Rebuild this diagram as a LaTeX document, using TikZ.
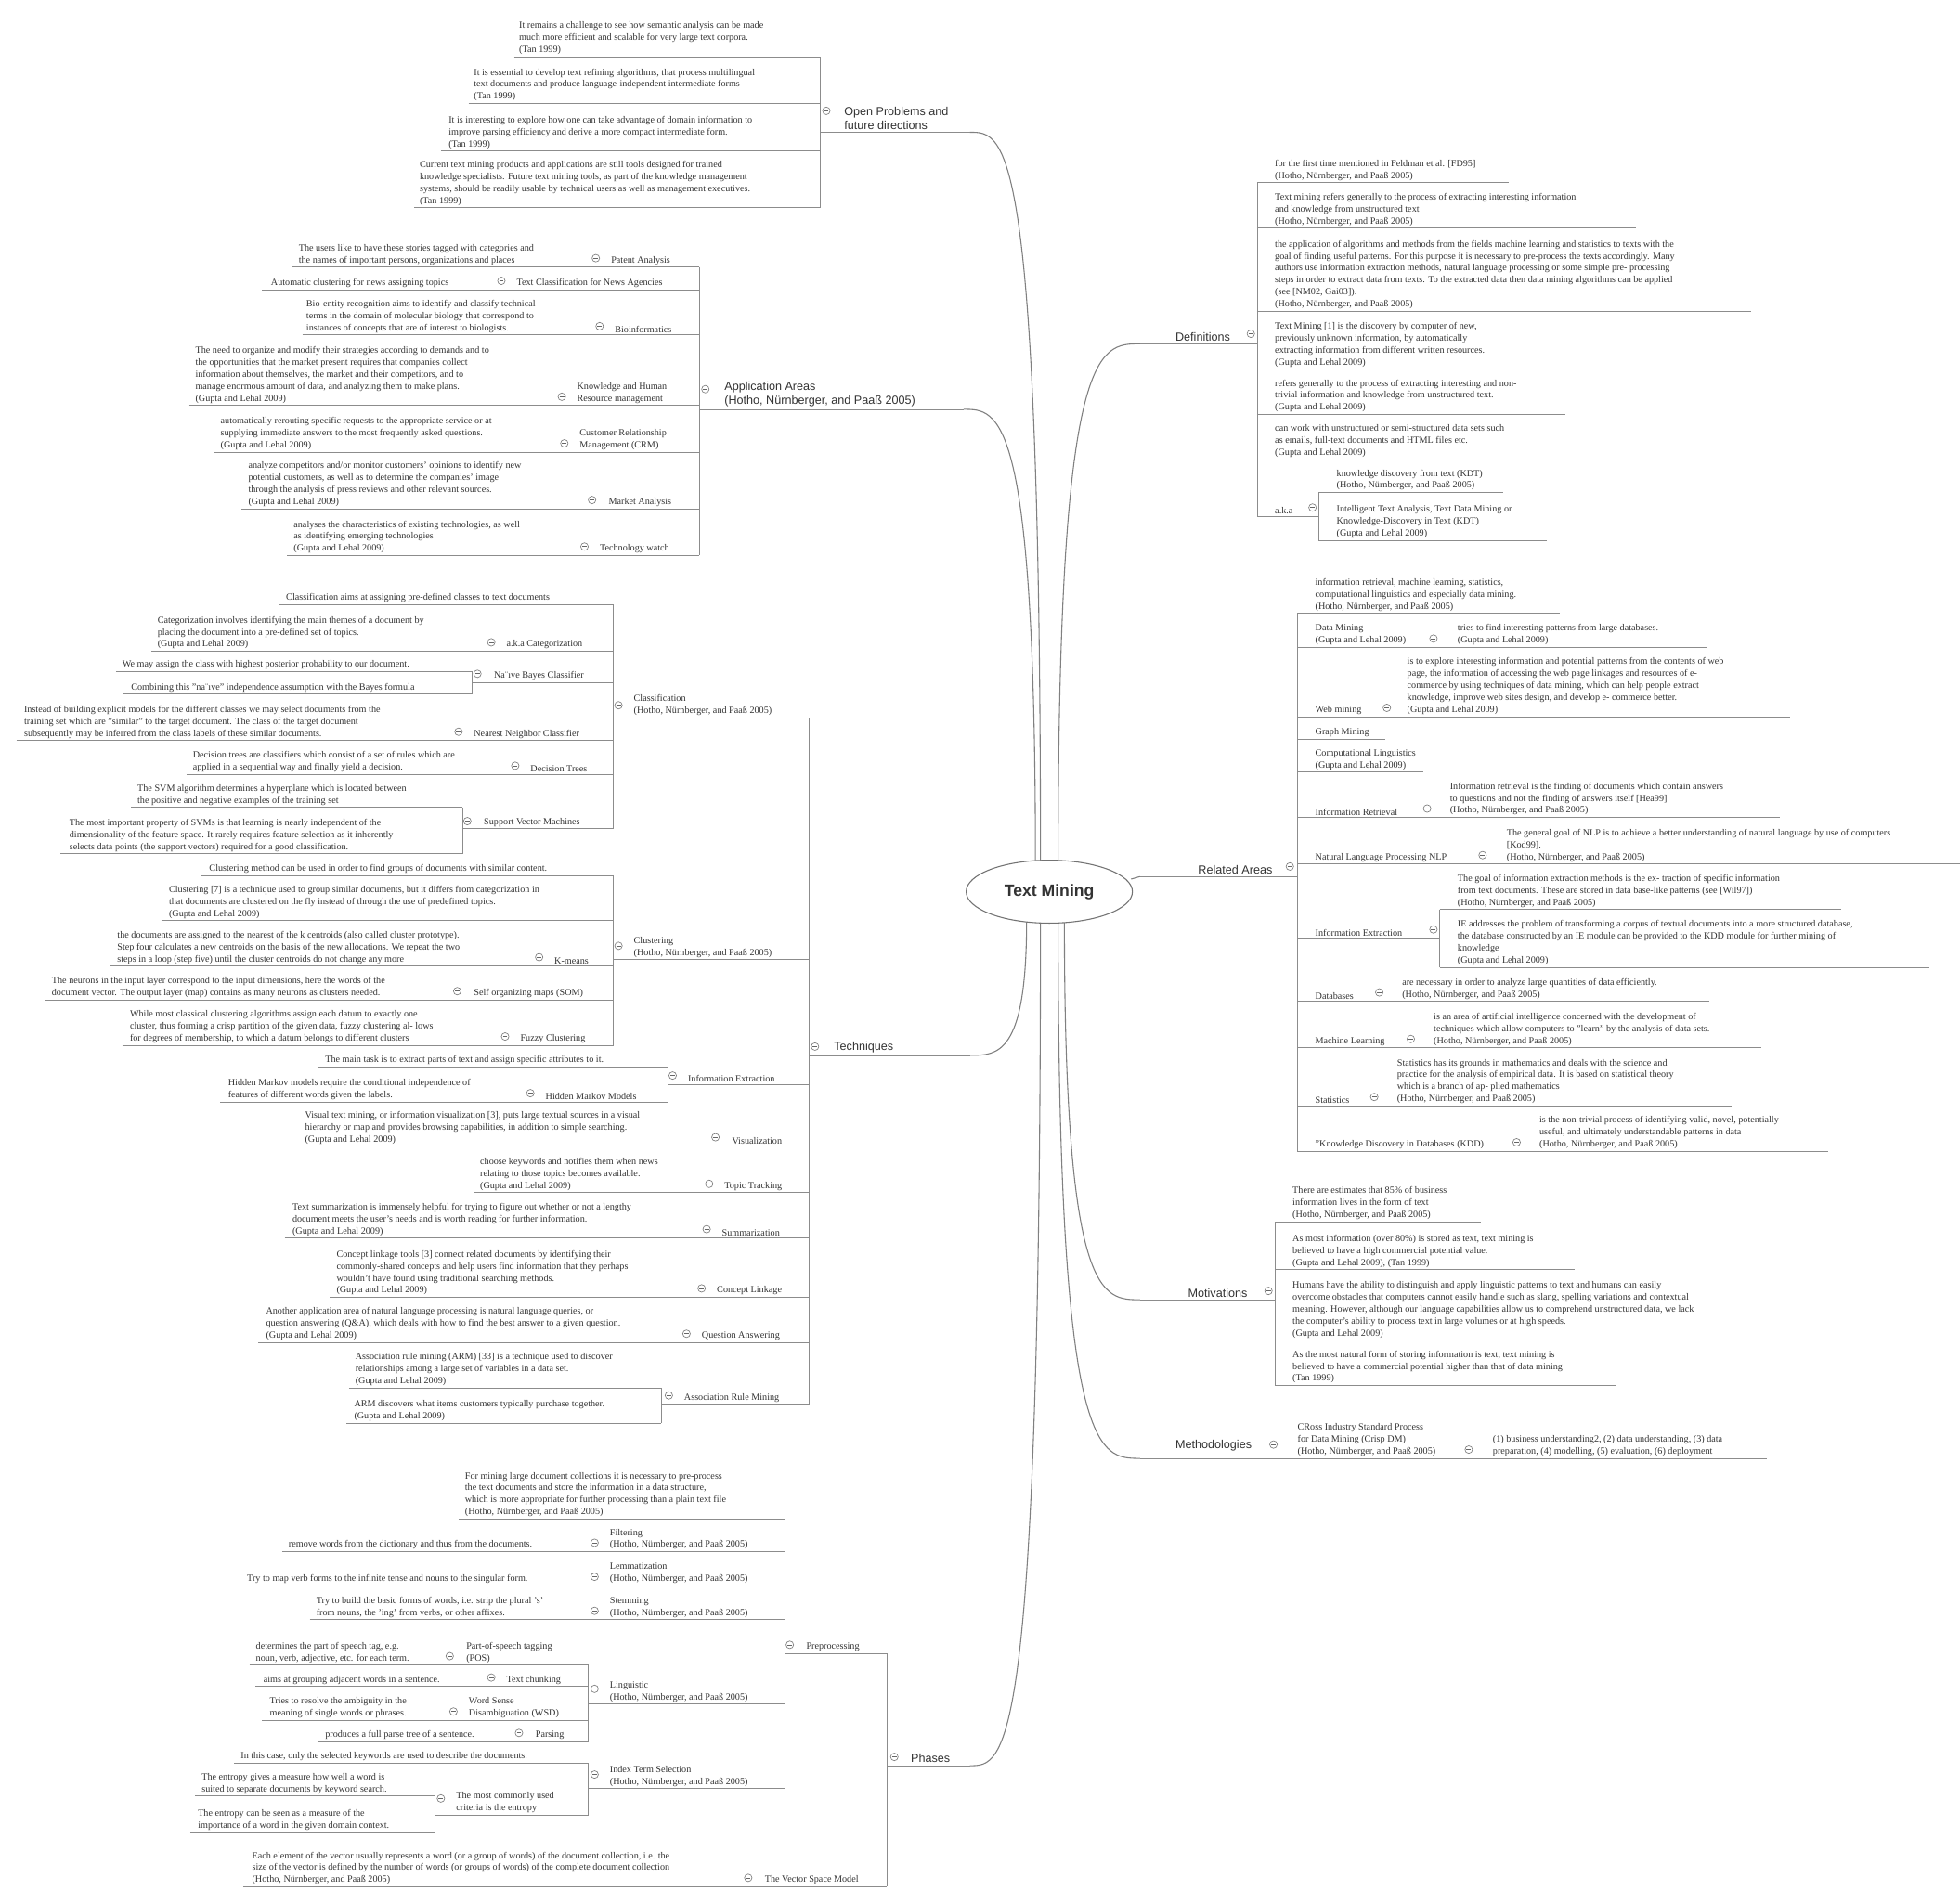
\documentclass[tikz,border=0pt]{standalone}
\usepackage{fontspec}
\usetikzlibrary{shapes.geometric}
\setmainfont{Liberation Serif}
\newfontfamily\hdfont{Liberation Sans}
\newcounter{nd}
\tikzset{
 tx/.style={inner sep=0pt,align=left,text=black!80,font=\fontsize{7.5}{9.5}\selectfont},
 hd/.style={inner sep=0pt,align=left,text=black!80,font=\hdfont\fontsize{9.3}{11}\selectfont},
 ln/.style={draw=black!45,line width=0.6pt},
 br/.style={draw=black!50,line width=0.8pt},
 col/.style={circle,draw=black!50,fill=white,line width=0.5pt,minimum size=6pt,inner sep=0pt,
   path picture={\draw[black!60,line width=0.5pt] ([xshift=-1.8pt]path picture bounding box.center)--([xshift=1.8pt]path picture bounding box.center);}}
}
\newcommand\mT[3]{\stepcounter{nd}\node[tx,anchor=south west] (t\thend) at (#1,#2-1.5) {#3};}
\newcommand\mH[3]{\stepcounter{nd}\node[hd,anchor=south west] (t\thend) at (#1,#2-2) {#3};}
\newcommand\mU[3]{\draw[ln] (#1,#3) -- (#2,#3);}
\newcommand\mV[3]{\draw[ln] (#1,#2) -- (#1,#3);}
\newcommand\mC[2]{\stepcounter{nd}\node[col] (c\thend) at (#1,#2) {};}
\newcommand\mR[5]{\mU{#1}{#2}{#3}\mT{#4}{#3}{#5}}
\newcommand\mRC[8]{\mU{#1}{#2}{#3}\mT{#4}{#3}{#5}\mC{#6}{#3-7}\mT{#7}{#3}{#8}}
\begin{document}
\begin{tikzpicture}[x=1pt,y=-1pt]
\fill[white] (0,0) rectangle (1556,1500);
\useasboundingbox (0,0) rectangle (1556,1500);
\coordinate (sOP) at (826,684); \coordinate (eOP) at (770,105);
\coordinate (sAA) at (822,685); \coordinate (eAA) at (765,325);
\coordinate (sTE) at (815,731); \coordinate (eTE) at (770,838);
\coordinate (sPH) at (826,733); \coordinate (ePH) at (770,1402);
\coordinate (sDE) at (840,684); \coordinate (eDE) at (905,273);
\coordinate (sRA) at (898,698); \coordinate (eRA) at (905,696);
\coordinate (sMO) at (845,732); \coordinate (eMO) at (905,1032);
\coordinate (sME) at (840,733); \coordinate (eME) at (905,1158);
\draw[br] (sOP) .. controls (826,105) and (798,105) .. (eOP);
\draw[br] (sAA) .. controls (822,325) and (793,325) .. (eAA);
\draw[br] (sTE) .. controls (815,838) and (792,838) .. (eTE);
\draw[br] (sPH) .. controls (826,1402) and (798,1402) .. (ePH);
\draw[br] (sDE) .. controls (840,273) and (872,273) .. (eDE);
\draw[br] (sRA) -- (eRA);
\draw[br] (sMO) .. controls (845,1032) and (875,1032) .. (eMO);
\draw[br] (sME) .. controls (840,1158) and (872,1158) .. (eME);
\node[ellipse,draw=black!55,fill=white,line width=0.8pt,minimum width=132pt,minimum height=50pt,font=\hdfont\bfseries\fontsize{13}{15}\selectfont,text=black!80] (tm) at (833,708) {Text Mining};

%%%%% Open problems
\mU{651}{770}{105}\mH{670}{105}{Open Problems and\\future directions}\mC{656}{88}
\mV{651}{45}{165}
\mR{408}{651}{45}{412}{It remains a challenge to see how semantic analysis can be made\\much more efficient and scalable for very large text corpora.\\(Tan 1999)}
\mR{372}{651}{82}{376}{ It is essential to develop text refining algorithms, that process multilingual\\text documents and produce language-independent intermediate forms\\(Tan 1999)}
\mR{350}{651}{120}{356}{It is interesting to explore how one can take advantage of domain information to\\improve parsing efficiency and derive a more compact intermediate form.\\ (Tan 1999)}
\mR{329}{651}{165}{333}{Current text mining products and applications are still tools designed for trained\\knowledge specialists. Future text mining tools, as part of the knowledge management\\systems, should be readily usable by technical users as well as management executives.\\(Tan 1999)}

%%%%% Application areas
\mU{555}{765}{325}\mH{575}{325}{Application Areas\\(Hotho, Nürnberger, and Paaß 2005)}\mC{560}{309}
\mV{555}{212}{441}
\mRC{232}{555}{212}{237}{The users like to have these stories tagged with categories and\\the names of important persons, organizations and places}{473}{485}{Patent Analysis}
\mRC{208}{555}{230}{215}{Automatic clustering for news assigning topics}{398}{410}{Text Classification for News Agencies}
\mRC{240}{555}{266}{243}{Bio-entity recognition aims to identify and classify technical\\terms in the domain of molecular biology that correspond to\\instances of concepts that are of interest to biologists.}{476}{488}{Bioinformatics}
\mRC{150}{555}{322}{155}{The need to organize and modify their strategies according to demands and to\\the opportunities that the market present requires that companies collect\\information about themselves, the market and their competitors, and to\\manage enormous amount of data, and analyzing them to make plans.\\(Gupta and Lehal 2009)}{446}{458}{Knowledge and Human\\Resource management}
\mRC{170}{555}{359}{175}{automatically rerouting specific requests to the appropriate service or at\\supplying immediate answers to the most frequently asked questions.\\(Gupta and Lehal 2009)}{448}{460}{Customer Relationship\\Management (CRM)}
\mRC{192}{555}{404}{197}{analyze competitors and/or monitor customers' opinions to identify new\\potential customers, as well as to determine the companies' image\\through the analysis of press reviews and other relevant sources.\\(Gupta and Lehal 2009)}{470}{483}{Market Analysis}
\mRC{228}{555}{441}{233}{analyses the characteristics of existing technologies, as well\\as identifying emerging technologies\\(Gupta and Lehal 2009)}{464}{476}{Technology watch}

%%%%% Techniques
\mU{642}{770}{838}\mH{662}{838}{Techniques}\mC{647}{831}
\mV{642}{570}{1115}
\mU{487}{642}{570}\mT{503}{570}{Classification\\(Hotho, Nürnberger, and Paaß 2005)}\mC{491}{560}
\mV{487}{480}{658}
\mR{222}{487}{480}{227}{Classification aims at assigning pre-defined classes to text documents}
\mRC{120}{487}{517}{125}{Categorization involves identifying the main themes of a document by\\placing the document into a pre-defined set of topics.\\(Gupta and Lehal 2009)}{390}{402}{a.k.a Categorization}
\mU{375}{487}{542}\mT{392}{542}{Na¨ıve Bayes Classifier}\mC{379}{535}
\mV{375}{533}{551}
\mR{92}{375}{533}{97}{We may assign the class with highest posterior probability to our document.}
\mR{98}{375}{551}{104}{Combining this "na¨ıve" independence assumption with the Bayes formula}
\mRC{13}{487}{588}{19}{Instead of building explicit models for the different classes we may select documents from the\\training set which are "similar" to the target document. The class of the target document\\subsequently may be inferred from the class labels of these similar documents.}{364}{376}{Nearest Neighbor Classifier}
\mRC{148}{487}{615}{153}{Decision trees are classifiers which consist of a set of rules which are\\applied in a sequential way and finally yield a decision.}{409}{421}{Decision Trees}
\mU{367}{487}{658}\mT{384}{658}{Support Vector Machines}\mC{371}{652}
\mV{367}{641}{678}
\mR{104}{367}{641}{109}{The SVM algorithm determines a hyperplane which is located between\\the positive and negative examples of the training set}
\mR{48}{367}{678}{55}{The most important property of SVMs is that learning is nearly independent of the\\dimensionality of the feature space. It rarely requires feature selection as it inherently\\selects data points (the support vectors) required for a good classification.}
\mU{487}{642}{762}\mT{503}{762}{Clustering\\(Hotho, Nürnberger, and Paaß 2005)}\mC{491}{751}
\mV{487}{695}{830}
\mR{160}{487}{695}{166}{Clustering method can be used in order to find groups of documents with similar content.}
\mR{128}{487}{731}{134}{Clustering [7] is a technique used to group similar documents, but it differs from categorization in\\that documents are clustered on the fly instead of through the use of predefined topics.\\(Gupta and Lehal 2009)}
\mRC{88}{487}{767}{93}{the documents are assigned to the nearest of the k centroids (also called cluster prototype).\\Step four calculates a new centroids on the basis of the new allocations. We repeat the two\\steps in a loop (step five) until the cluster centroids do not change any more}{428}{440}{K-means}
\mRC{36}{487}{794}{41}{The neurons in the input layer correspond to the input dimensions, here the words of the\\document vector. The output layer (map) contains as many neurons as clusters needed.}{363}{376}{Self organizing maps (SOM)}
\mRC{97}{487}{830}{103}{While most classical clustering algorithms assign each datum to exactly one\\cluster, thus forming a crisp partition of the given data, fuzzy clustering al- lows\\for degrees of membership, to which a datum belongs to different clusters}{401}{413}{Fuzzy Clustering}
\mU{530}{642}{861}\mT{546}{861}{Information Extraction}\mC{534}{854}
\mV{530}{847}{875}
\mR{252}{530}{847}{258}{The main task is to extract parts of text and assign specific attributes to it.}
\mRC{175}{530}{875}{181}{Hidden Markov models require the conditional independence of\\features of different words given the labels.}{421}{433}{Hidden Markov Models}
\mRC{236}{642}{910}{242}{Visual text mining, or information visualization [3], puts large textual sources in a visual\\hierarchy or map and provides browsing capabilities, in addition to simple searching.\\(Gupta and Lehal 2009)}{568}{581}{Visualization}
\mRC{376}{642}{947}{381}{choose keywords and notifies them when news\\relating to those topics becomes available.\\(Gupta and Lehal 2009)}{563}{575}{Topic Tracking}
\mRC{226}{642}{983}{232}{Text summarization is immensely helpful for trying to figure out whether or not a lengthy\\document meets the user's needs and is worth reading for further information.\\(Gupta and Lehal 2009)}{561}{573}{Summarization}
\mRC{262}{642}{1030}{267}{Concept linkage tools [3] connect related documents by identifying their\\commonly-shared concepts and help users find information that they perhaps\\wouldn't have found using traditional searching methods.\\(Gupta and Lehal 2009)}{557}{569}{Concept Linkage}
\mRC{205}{642}{1066}{211}{Another application area of natural language processing is natural language queries, or\\question answering (Q\&A), which deals with how to find the best answer to a given question.\\(Gupta and Lehal 2009)}{545}{557}{Question Answering}
\mU{525}{642}{1115}\mT{543}{1115}{Association Rule Mining}\mC{531}{1108}
\mV{525}{1102}{1130}
\mR{277}{525}{1102}{282}{Association rule mining (ARM) [33] is a technique used to discover\\relationships among a large set of variables in a data set.\\(Gupta and Lehal 2009)}
\mR{275}{525}{1130}{281}{ARM discovers what items customers typically purchase together.\\(Gupta and Lehal 2009)}

%%%%% Phases
\mU{704}{770}{1402}\mH{723}{1402}{Phases}\mC{710}{1395}
\mV{704}{1313}{1498}
\mU{623}{704}{1313}\mT{640}{1313}{Preprocessing}\mC{627}{1306}
\mV{623}{1206}{1420}
\mR{364}{623}{1206}{369}{For mining large document collections it is necessary to pre-process\\the text documents and store the information in a data structure,\\which is more appropriate for further processing than a plain text file\\(Hotho, Nürnberger, and Paaß 2005)}
\mRC{224}{623}{1232}{229}{remove words from the dictionary and thus from the documents.}{472}{484}{Filtering\\(Hotho, Nürnberger, and Paaß 2005)}
\mRC{190}{623}{1259}{196}{Try to map verb forms to the infinite tense and nouns to the singular form.}{472}{484}{Lemmatization\\(Hotho, Nürnberger, and Paaß 2005)}
\mRC{246}{623}{1286}{251}{Try to build the basic forms of words, i.e. strip the plural 's'\\from nouns, the 'ing' from verbs, or other affixes.}{472}{484}{Stemming\\(Hotho, Nürnberger, and Paaß 2005)}
\mU{467}{623}{1353}\mT{484}{1353}{Linguistic\\(Hotho, Nürnberger, and Paaß 2005)}\mC{472}{1341}
\mV{467}{1322}{1383}
\mRC{198}{467}{1322}{203}{determines the part of speech tag, e.g.\\noun, verb, adjective, etc. for each term.}{357}{370}{Part-of-speech tagging\\(POS)}
\mRC{203}{467}{1339}{209}{aims at grouping adjacent words in a sentence.}{390}{402}{Text chunking}
\mRC{208}{467}{1366}{214}{Tries to resolve the ambiguity in the\\meaning of single words or phrases.}{360}{372}{Word Sense\\Disambiguation (WSD)}
\mRC{252}{467}{1383}{258}{produces a full parse tree of a sentence.}{412}{425}{Parsing}
\mU{467}{623}{1420}\mT{484}{1420}{Index Term Selection\\(Hotho, Nürnberger, and Paaß 2005)}\mC{472}{1409}
\mV{467}{1400}{1441}
\mR{186}{467}{1400}{191}{In this case, only the selected keywords are used to describe the documents.}
\mU{345}{467}{1441}\mT{362}{1441}{The most commonly used\\criteria is the entropy}\mC{350}{1428}
\mV{345}{1426}{1455}
\mR{155}{345}{1426}{160}{The entropy gives a measure how well a word is\\suited to separate documents by keyword search.}
\mR{151}{345}{1455}{157}{The entropy can be seen as a measure of the\\importance of a word in the given domain context.}
\mRC{193}{704}{1498}{200}{Each element of the vector usually represents a word (or a group of words) of the document collection, i.e. the\\size of the vector is defined by the number of words (or groups of words) of the complete document collection\\(Hotho, Nürnberger, and Paaß 2005)}{594}{607}{The Vector Space Model}

%%%%% Definitions
\mU{905}{998}{273}\mH{933}{273}{Definitions}\mC{993}{265}
\mV{998}{145}{410}
\mR{998}{1198}{145}{1012}{for the first time mentioned in Feldman et al. [FD95]\\(Hotho, Nürnberger, and Paaß 2005)}
\mR{998}{1299}{181}{1012}{Text mining refers generally to the process of extracting interesting information\\and knowledge from unstructured text\\(Hotho, Nürnberger, and Paaß 2005)}
\mR{998}{1390}{247}{1012}{the application of algorithms and methods from the fields machine learning and statistics to texts with the\\goal of finding useful patterns. For this purpose it is necessary to pre-process the texts accordingly. Many\\authors use information extraction methods, natural language processing or some simple pre- processing\\steps in order to extract data from texts. To the extracted data then data mining algorithms can be applied\\(see [NM02, Gai03]).\\(Hotho, Nürnberger, and Paaß 2005)}
\mR{998}{1215}{293}{1012}{Text Mining [1] is the discovery by computer of new,\\previously unknown information, by automatically\\extracting information from different written resources.\\(Gupta and Lehal 2009)}
\mR{998}{1243}{329}{1012}{refers generally to the process of extracting interesting and non-\\trivial information and knowledge from unstructured text.\\(Gupta and Lehal 2009)}
\mR{998}{1235}{365}{1012}{can work with unstructured or semi-structured data sets such\\as emails, full-text documents and HTML files etc.\\(Gupta and Lehal 2009)}
\mU{998}{1047}{410}\mT{1012}{410}{a.k.a}\mC{1042}{403}
\mV{1047}{391}{429}
\mR{1047}{1193}{391}{1061}{knowledge discovery from text (KDT)\\(Hotho, Nürnberger, and Paaß 2005)}
\mR{1047}{1228}{429}{1061}{Intelligent Text Analysis, Text Data Mining or\\Knowledge-Discovery in Text (KDT)\\(Gupta and Lehal 2009)}

%%%%% Related areas
\mU{905}{1030}{696}\mH{951}{696}{Related Areas}\mC{1024}{688}
\mV{1030}{487}{914}
\mR{1030}{1238}{487}{1044}{information retrieval, machine learning, statistics,\\computational linguistics and especially data mining.\\(Hotho, Nürnberger, and Paaß 2005)}
\mRC{1030}{1355}{514}{1044}{Data Mining\\(Gupta and Lehal 2009)}{1138}{1157}{tries to find interesting patterns from large databases.\\(Gupta and Lehal 2009)}
\mRC{1030}{1421}{569}{1044}{Web mining}{1101}{1117}{ is to explore interesting information and potential patterns from the contents of web\\page, the information of accessing the web page linkages and resources of e-\\commerce by using techniques of data mining, which can help people extract\\knowledge, improve web sites design, and develop e- commerce better.\\(Gupta and Lehal 2009)}
\mR{1030}{1100}{587}{1044}{Graph Mining}
\mR{1030}{1130}{613}{1044}{Computational Linguistics\\(Gupta and Lehal 2009)}
\mRC{1030}{1413}{649}{1044}{Information Retrieval}{1133}{1151}{Information retrieval is the finding of documents which contain answers\\to questions and not the finding of answers itself [Hea99]\\(Hotho, Nürnberger, and Paaß 2005)}
\mRC{1030}{1556}{686}{1044}{Natural Language Processing NLP}{1177}{1196}{The general goal of NLP is to achieve a better understanding of natural language by use of computers\\{}[Kod99].\\(Hotho, Nürnberger, and Paaß 2005)}
\mU{1030}{1143}{745}\mT{1044}{745}{Information Extraction}\mC{1138}{738}
\mV{1143}{722}{768}
\mR{1143}{1462}{722}{1157}{The goal of information extraction methods is the ex- traction of specific information\\from text documents. These are stored in data base-like patterns (see [Wil97])\\(Hotho, Nürnberger, and Paaß 2005)}
\mR{1143}{1532}{768}{1157}{IE addresses the problem of transforming a corpus of textual documents into a more structured database,\\the database constructed by an IE module can be provided to the KDD module for further mining of\\knowledge\\(Gupta and Lehal 2009)}
\mRC{1030}{1357}{795}{1044}{Databases}{1095}{1113}{are necessary in order to analyze large quantities of data efficiently.\\(Hotho, Nürnberger, and Paaß 2005)}
\mRC{1030}{1398}{832}{1044}{Machine Learning}{1120}{1138}{is an area of artificial intelligence concerned with the development of\\techniques which allow computers to "learn" by the analysis of data sets.\\(Hotho, Nürnberger, and Paaß 2005)}
\mRC{1030}{1375}{878}{1044}{Statistics}{1091}{1109}{Statistics has its grounds in mathematics and deals with the science and\\practice for the analysis of empirical data. It is based on statistical theory\\which is a branch of ap- plied mathematics\\(Hotho, Nürnberger, and Paaß 2005)}
\mRC{1030}{1451}{914}{1044}{"Knowledge Discovery in Databases (KDD)}{1204}{1222}{is the non-trivial process of identifying valid, novel, potentially\\useful, and ultimately understandable patterns in data\\(Hotho, Nürnberger, and Paaß 2005)}

%%%%% Motivations
\mU{905}{1012}{1032}\mH{943}{1032}{Motivations}\mC{1007}{1025}
\mV{1012}{970}{1100}
\mR{1012}{1176}{970}{1026}{There are estimates that 85\% of business\\information lives in the form of text\\(Hotho, Nürnberger, and Paaß 2005)}
\mR{1012}{1250}{1008}{1026}{As most information (over 80\%) is stored as text, text mining is\\believed to have a high commercial potential value.\\(Gupta and Lehal 2009), (Tan 1999)}
\mR{1012}{1404}{1064}{1026}{Humans have the ability to distinguish and apply linguistic patterns to text and humans can easily\\overcome obstacles that computers cannot easily handle such as slang, spelling variations and contextual\\meaning. However, although our language capabilities allow us to comprehend unstructured data, we lack\\the computer's ability to process text in large volumes or at high speeds.\\(Gupta and Lehal 2009)}
\mR{1012}{1283}{1100}{1026}{As the most natural form of storing information is text, text mining is\\believed to have a commercial potential higher than that of data mining\\(Tan 1999)}

%%%%% Methodologies
\mU{905}{1016}{1158}\mH{933}{1154}{Methodologies}\mC{1011}{1147}
\mRC{1016}{1403}{1158}{1030}{CRoss Industry Standard Process\\for Data Mining (Crisp DM)\\(Hotho, Nürnberger, and Paaß 2005)}{1166}{1185}{(1) business understanding2, (2) data understanding, (3) data\\preparation, (4) modelling, (5) evaluation, (6) deployment}
\end{tikzpicture}
\end{document}
